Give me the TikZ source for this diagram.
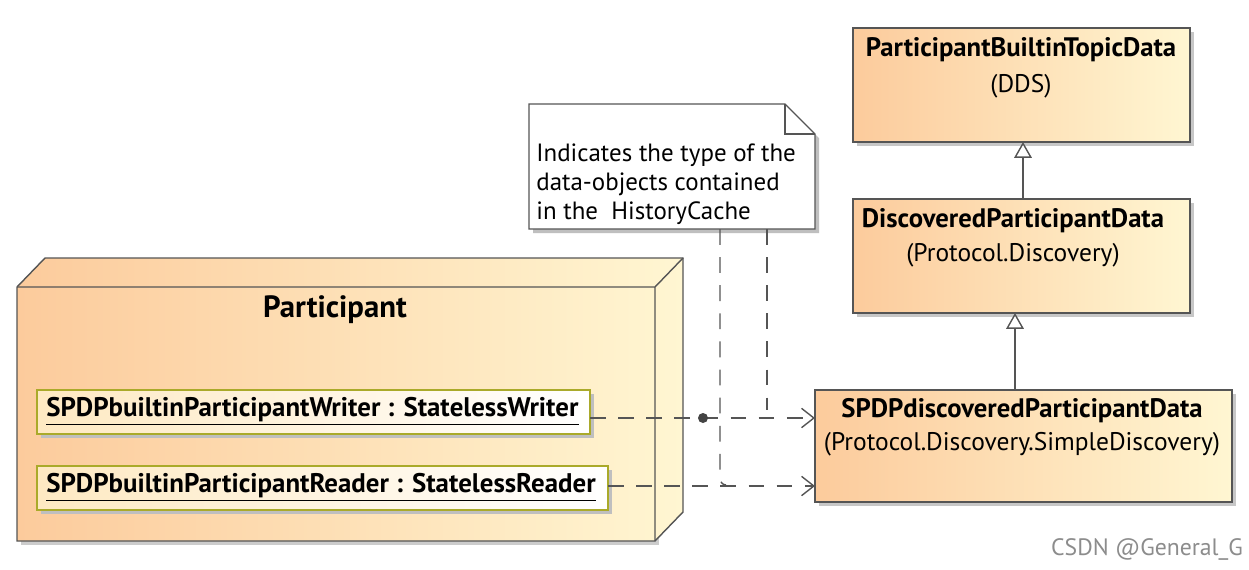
\documentclass[tikz,border=0pt]{standalone}
\usepackage{fontspec}
\setmainfont{PT Sans}
\usetikzlibrary{arrows.meta,shapes.geometric}
\definecolor{peach}{HTML}{FCCB9C}
\definecolor{cream}{HTML}{FFF6D2}
\definecolor{ln}{HTML}{555555}
\begin{document}
\begin{tikzpicture}[x=0.02cm,y=-0.02cm,
  dep/.style={draw=ln,line width=0.8pt,dash pattern=on 9pt off 7pt,-{Straight Barb[length=7pt,width=11pt]}},
  gen/.style={draw=ln,line width=0.8pt,-{Triangle[open,length=9pt,width=10pt,fill=white]}},
  anc/.style={draw=ln,line width=0.8pt,dash pattern=on 9pt off 7pt},
  lbl/.style={font=\fontsize{14.5}{16}\selectfont},
  bl/.style={font=\bfseries\fontsize{15.2}{16}\selectfont},
  ol/.style={font=\bfseries\fontsize{15.3}{16}\selectfont,anchor=west,inner sep=0pt}]
\useasboundingbox (0,0) rectangle (1249,569);
\fill[white] (0,0) rectangle (1249,569);
% node 3D
\fill[black!20] (21,291) rectangle (659,545);
\shade[left color=peach,right color=cream,draw=ln,line width=0.8pt] (17,287) -- (45,258) -- (683,258) -- (683,512) -- (655,541) -- (17,541) -- cycle;
\draw[ln,line width=0.8pt] (17,287) -- (655,287) -- (683,258) (655,287) -- (655,541);
\node[font=\bfseries\fontsize{17.5}{19}\selectfont] (part) at (335,310) {Participant};
% objects
\fill[black!25] (41,394) rectangle (594,438);
\fill[black!25] (41,470) rectangle (612,514);
\shade[left color=cream!70!peach,right color=white,draw=ln!50!yellow,line width=0.7pt] (37,390) rectangle (590,434);
\shade[left color=cream!70!peach,right color=white,draw=ln!50!yellow,line width=0.7pt] (37,466) rectangle (608,510);
\node[ol] (wr) at (46,411) {\underline{SPDPbuiltinParticipantWriter : StatelessWriter}};
\node[ol] (rd) at (46,487) {\underline{SPDPbuiltinParticipantReader : StatelessReader}};
\coordinate (wre) at (590,418);
\coordinate (rde) at (608,486);
% classes
\foreach \a/\b/\c/\d in {853/28/1190/142,853/199/1190/313,815/390/1232/502}{
  \fill[black!22] (\a+4,\b+4) rectangle (\c+4,\d+4);
  \shade[left color=peach,right color=cream,draw=ln,line width=0.8pt] (\a,\b) rectangle (\c,\d);}
\node[bl] (pbtd) at (1021,50) {ParticipantBuiltinTopicData};
\node[lbl] at (1021,86) {(DDS)};
\node[bl] (dpd) at (1013,221) {DiscoveredParticipantData};
\node[lbl] at (1013,255) {(Protocol.Discovery)};
\node[bl] (spdp) at (1022,411) {SPDPdiscoveredParticipantData};
\node[lbl] at (1022,444) {(Protocol.Discovery.SimpleDiscovery)};
\coordinate (g1s) at (1023,199); \coordinate (g1e) at (1023,142);
\coordinate (g2s) at (1015,390); \coordinate (g2e) at (1015,313);
\draw[gen] (g1s) -- (g1e);
\draw[gen] (g2s) -- (g2e);
% note
\fill[black!25] (533,108) -- (789,108) -- (819,138) -- (819,233) -- (533,233) -- cycle;
\filldraw[fill=white,draw=ln,line width=0.8pt] (529,104) -- (785,104) -- (815,134) -- (815,229) -- (529,229) -- cycle;
\draw[ln,line width=0.8pt] (785,104) -- (785,134) -- (815,134);
\node[font=\fontsize{14.2}{16.5}\selectfont,anchor=north west,align=left,inner sep=0pt] (note) at (536,143) {Indicates the type of the\\data-objects contained\\in the\ \ HistoryCache};
% dependencies
\coordinate (wt) at (815,418); \coordinate (rt) at (815,486);
\draw[dep] (wre) -- (wt);
\draw[dep] (rde) -- (rt);
\fill[ln!80!black] (703,418) circle (5);
\draw[anc] (767,229) -- (767,410);
\draw[anc] (720,229) -- (720,478) to[out=270,in=180] (726,485);
\node[text=black!45,font=\fontsize{13.5}{14}\selectfont] at (1147,549) {CSDN @General\_G};
\end{tikzpicture}
\end{document}
